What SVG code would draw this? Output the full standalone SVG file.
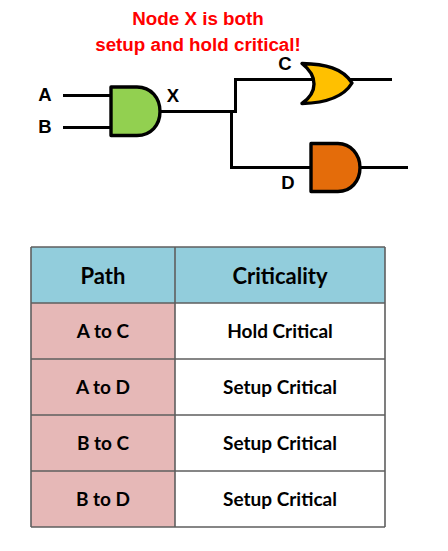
<svg xmlns="http://www.w3.org/2000/svg" width="448" height="551" viewBox="0 0 448 551">
<style>
.w{fill:none;stroke:#000;stroke-width:3}
.g{stroke:#000;stroke-width:3.4;stroke-linejoin:round}
.l{font:bold 18.500px "Liberation Sans",Arial,sans-serif;fill:#000;text-anchor:middle}
.r{font:bold 18.800px "Liberation Sans",Arial,sans-serif;fill:#f00;text-anchor:middle}
.h{font:bold 22px Lato,"Open Sans",sans-serif;fill:#000;text-anchor:middle}
.c{font:bold 19px Lato,"Open Sans",sans-serif;fill:#000;text-anchor:middle}
.b{stroke:#5f5f5f;stroke-width:1.6;fill:none}
</style>
<rect width="448" height="551" fill="#fff"/>
<text class="r" x="198" y="25">Node X is both</text>
<text class="r" x="198" y="50.500">setup and hold critical!</text>
<g id="connectors">
<path class="w" d="M63 95.500H112M63 127.500H112M160 111.500H235.500V79.500H316M231.500 111.500V167.500H312M350 79.500H392M360 167.500H408"/>
</g>
<g id="and1"><path class="g" fill="#92d050" d="M111 87H137C151 87 160 98 160 111.500C160 125 151 135.500 137 135.500H111Z"/></g>
<g id="or"><path class="g" fill="#ffc000" d="M302 63.500C325 64 343 68 352 83C343 98 325 103 302 103.500C318 92 318 76 302 63.500Z"/></g>
<g id="and2"><path class="g" fill="#e46c0a" d="M311 143.500H337C351 143 360 155 360 167.500C360 181 351 192 337 191.500H311Z"/></g>
<text class="l" x="45" y="101">A</text>
<text class="l" x="45" y="132.500">B</text>
<text class="l" x="173" y="102">X</text>
<text class="l" x="285" y="70">C</text>
<text class="l" x="288" y="189">D</text>
<g id="table">
<rect x="31" y="247" width="354" height="56" fill="#92cddc"/>
<rect x="31" y="303" width="144" height="224" fill="#e6b8b7"/>
<path class="b" d="M31 247H385M31 303H385M31 359H385M31 415H385M31 471H385M31 527H385M31 247V527M175 247V527M385 247V527"/>
<text class="h" x="103" y="284">Path</text>
<text class="h" x="280" y="284">Criticality</text>
<text class="c" x="103" y="338">A to C</text>
<text class="c" x="280" y="338">Hold Critical</text>
<text class="c" x="103" y="394">A to D</text>
<text class="c" x="280" y="394">Setup Critical</text>
<text class="c" x="103" y="450">B to C</text>
<text class="c" x="280" y="450">Setup Critical</text>
<text class="c" x="103" y="506">B to D</text>
<text class="c" x="280" y="506">Setup Critical</text>
</g>
</svg>
